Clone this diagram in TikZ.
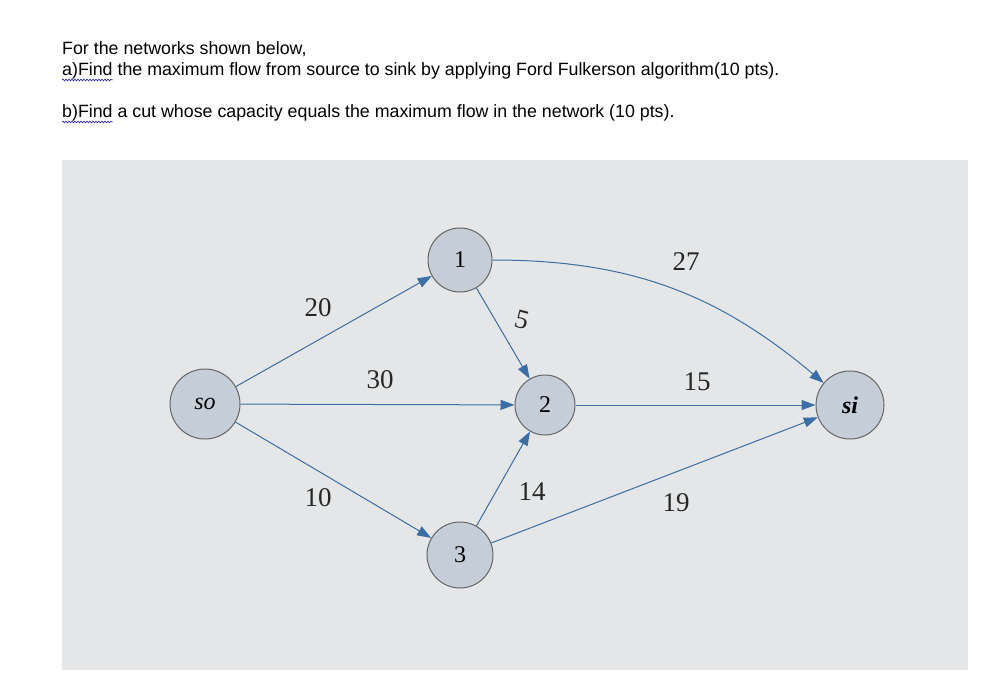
\documentclass[tikz,border=0pt]{standalone}
\usepackage{fontspec}
\setmainfont{Liberation Serif}
\newfontfamily\arialf{Liberation Sans}
\usetikzlibrary{arrows.meta,decorations.pathmorphing}
\definecolor{edgec}{HTML}{3A6EA5}
\definecolor{nodef}{HTML}{C5CDD9}
\definecolor{photo}{HTML}{E4E6E8}
\tikzset{
 vtx/.style={circle,draw=gray!80!black,fill=nodef,line width=1pt,inner sep=0pt,font=\fontsize{24}{24}\selectfont},
 edg/.style={draw=edgec,line width=1pt,-{Triangle[length=14pt,width=10pt]}},
 caplbl/.style={font=\fontsize{27}{27}\selectfont,text=black!85},
 qtext/.style={font=\arialf\fontsize{17.8}{17.8}\selectfont,anchor=base west,inner sep=0pt},
 wavy/.style={draw=blue!70!black,line width=0.5pt,decorate,decoration={snake,amplitude=0.9pt,segment length=3pt}}
}
\begin{document}
\begin{tikzpicture}[x=1pt,y=-1pt]
\useasboundingbox (0,0) rectangle (1006,695);
\fill[white] (0,0) rectangle (1006,695);
\node[qtext] (t1) at (62,55) {For the networks shown below,};
\node[qtext] (t2) at (62,76) {a)Find the maximum flow from source to sink by applying Ford Fulkerson algorithm(10 pts).};
\node[qtext] (t3) at (62,118) {b)Find a cut whose capacity equals the maximum flow in the network (10 pts).};
\coordinate (w1a) at (62,80); \coordinate (w1b) at (113,80);
\coordinate (w2a) at (62,122); \coordinate (w2b) at (113,122);
\draw[wavy] (w1a) -- (w1b);
\draw[wavy] (w2a) -- (w2b);
\fill[photo] (62,160) rectangle (968,670);
\node[vtx,minimum size=70pt] (so) at (205,404) {\textit{so}};
\node[vtx,minimum size=64pt] (n1) at (460,260) {1};
\node[vtx,minimum size=60pt] (n2) at (545,405) {2};
\node[vtx,minimum size=66pt] (n3) at (460,555) {3};
\node[vtx,minimum size=68pt] (si) at (850,405) {\textbf{\textit{si}}};
\draw[edg] (so) -- (n1);
\draw[edg] (so) -- (n2);
\draw[edg] (so) -- (n3);
\draw[edg] (n1) -- (n2);
\draw[edg] (n3) -- (n2);
\draw[edg] (n2) -- (si);
\draw[edg] (n3) -- (si);
\draw[edg] (n1) to[out=0,in=140] (si);
\node[caplbl] (c20) at (318,308) {20};
\node[caplbl] (c30) at (380,380) {30};
\node[caplbl] (c10) at (318,498) {10};
\node[caplbl,rotate=-15] (c5) at (522,320) {5};
\node[caplbl] (c14) at (532,492) {14};
\node[caplbl] (c27) at (686,262) {27};
\node[caplbl] (c15) at (697,382) {15};
\node[caplbl] (c19) at (676,503) {19};
\end{tikzpicture}
\end{document}
